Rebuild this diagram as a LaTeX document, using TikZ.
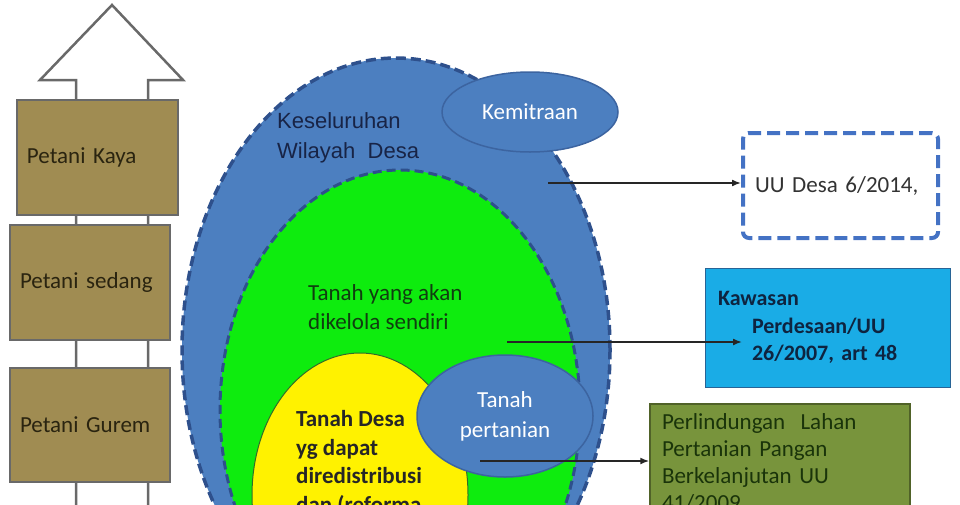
\documentclass[tikz,border=0pt]{standalone}
\usepackage{fontspec}
\setmainfont{Carlito}
\newfontfamily\arialfont{Liberation Sans}
\usetikzlibrary{shapes.geometric,arrows.meta}

\definecolor{khaki}{RGB}{160,140,82}
\definecolor{boxrim}{RGB}{105,105,105}
\definecolor{petanitext}{RGB}{42,36,16}
\definecolor{desablue}{RGB}{76,127,192}
\definecolor{rimblue}{RGB}{46,80,140}
\definecolor{blobrim}{RGB}{60,100,160}
\definecolor{greenfill}{RGB}{14,236,14}
\definecolor{greentext}{RGB}{16,62,16}
\definecolor{yellowrim}{RGB}{50,110,40}
\definecolor{navytext}{RGB}{24,36,70}
\definecolor{cyanbox}{RGB}{26,172,230}
\definecolor{cyanrim}{RGB}{40,100,150}
\definecolor{cyantext}{RGB}{14,36,64}
\definecolor{olivebox}{RGB}{120,148,60}
\definecolor{oliverim}{RGB}{80,98,40}
\definecolor{olivetext}{RGB}{26,52,10}
\definecolor{dashblue}{RGB}{68,114,196}

\tikzstyle{none}=[inner sep=0pt]
\tikzstyle{ladder_line}=[draw=boxrim,line width=2.5pt,line join=miter]
\tikzstyle{petani_box}=[rectangle,draw=boxrim,line width=2pt,fill=khaki,text=petanitext,align=left,inner xsep=10pt,font=\fontsize{23}{28}\selectfont]
\tikzstyle{area_outer}=[ellipse,inner sep=0pt,fill=desablue,draw=rimblue,line width=3.5pt,dash pattern=on 10pt off 5pt,minimum width=428pt,minimum height=584pt]
\tikzstyle{area_green}=[ellipse,inner sep=0pt,fill=greenfill,draw=rimblue,line width=3pt,dash pattern=on 9pt off 5pt,minimum width=360pt,minimum height=480pt]
\tikzstyle{area_yellow}=[ellipse,inner sep=0pt,fill=yellow,draw=yellowrim,line width=1pt,minimum width=216pt,minimum height=284pt]
\tikzstyle{blue_blob}=[ellipse,inner sep=0pt,fill=desablue,draw=blobrim,line width=1.5pt,text=white,align=center,font=\fontsize{23}{30}\selectfont]
\tikzstyle{label_navy}=[style=none,anchor=west,align=left,text=navytext,font=\fontsize{22}{30}\selectfont\arialfont]
\tikzstyle{label_green}=[style=none,anchor=west,align=left,text=greentext,font=\fontsize{23}{29}\selectfont]
\tikzstyle{label_bold}=[style=none,anchor=west,align=left,text=black!85,font=\fontsize{23}{28.5}\selectfont\bfseries]
\tikzstyle{uu_box}=[rectangle,rounded corners=6pt,draw=dashblue,line width=4pt,dash pattern=on 13pt off 6pt,fill=white,text=black!80,align=left,inner xsep=12pt,text width=171pt,minimum height=105pt,font=\fontsize{23}{28}\selectfont]
\tikzstyle{kawasan_box}=[rectangle,draw=cyanrim,line width=1pt,fill=cyanbox,text=cyantext,align=left,inner xsep=13pt,text width=219pt,minimum height=119pt,font=\fontsize{22}{27.5}\selectfont\bfseries]
\tikzstyle{lahan_box}=[rectangle,draw=oliverim,line width=1.5pt,fill=olivebox,text=olivetext,align=left,inner xsep=12pt,text width=236pt,minimum height=117pt,font=\fontsize{23}{27}\selectfont]
\tikzstyle{law_arrow}=[-{Latex[length=9pt,width=7pt]},draw=black!85,line width=1.6pt]

\begin{document}
\begin{tikzpicture}[x=1pt,y=-1pt]
	\useasboundingbox (0,0) rectangle (960,504);
	\clip (0,0) rectangle (960,504);
	% up arrow behind the farmer boxes
	\draw [style=ladder_line] (76,530) -- (76,80) -- (40,80) -- (112,5) -- (183,80) -- (148,80) -- (148,530);
	% farmer classes
	\node [style=petani_box, text width=141pt, minimum height=115pt] (kaya) at (97.5,157.5) {Petani Kaya};
	\node [style=petani_box, text width=140pt, minimum height=115pt] (sedang) at (90,282.5) {Petani sedang};
	\node [style=petani_box, text width=140pt, minimum height=114pt] (gurem) at (90,425) {Petani Gurem};
	% nested land areas
	\node [style=area_outer] (desa) at (396,350) {};
	\node [style=area_green] (kelola) at (400,410) {};
	\node [style=area_yellow] (redis) at (360,495) {};
	\node [style=label_navy] (wilayah) at (277,138) {Keseluruhan\\Wilayah~~Desa};
	\node [style=label_green] (sendiri) at (308,307.5) {Tanah yang akan\\dikelola sendiri};
	\node [style=label_bold] (tanahdesa) at (296,463) {Tanah Desa\\yg dapat\\diredistribusi\\dan (reforma};
	\node [style=blue_blob, minimum width=176pt, minimum height=122pt] (pertanian) at (505,416) {Tanah\\pertanian};
	\node [style=blue_blob, minimum width=176pt, minimum height=80pt] (kemitraan) at (530,112) {Kemitraan};
	% laws
	\node [style=uu_box] (uu) at (840.5,185.5) {UU Desa 6/2014,};
	\node [style=kawasan_box] (kawasan) at (827.5,327.5) {Kawasan\\\hspace*{34pt}Perdesaan/UU\\\hspace*{34pt}26/2007, art 48};
	\node [style=lahan_box] (lahan) at (780,462.5) {Perlindungan~~Lahan\\Pertanian Pangan\\Berkelanjutan UU\\41/2009};
	% arrow ends
	\coordinate (from_desa) at (548,183);
	\coordinate (from_kelola) at (507,342);
	\coordinate (into_kawasan) at (742,342);
	\coordinate (from_pertanian) at (480,461);
	\draw [style=law_arrow] (from_desa) -- (from_desa -| uu.west);
	\draw [style=law_arrow] (from_kelola) -- (into_kawasan);
	\draw [style=law_arrow] (from_pertanian) -- (from_pertanian -| lahan.west);
\end{tikzpicture}
\end{document}
